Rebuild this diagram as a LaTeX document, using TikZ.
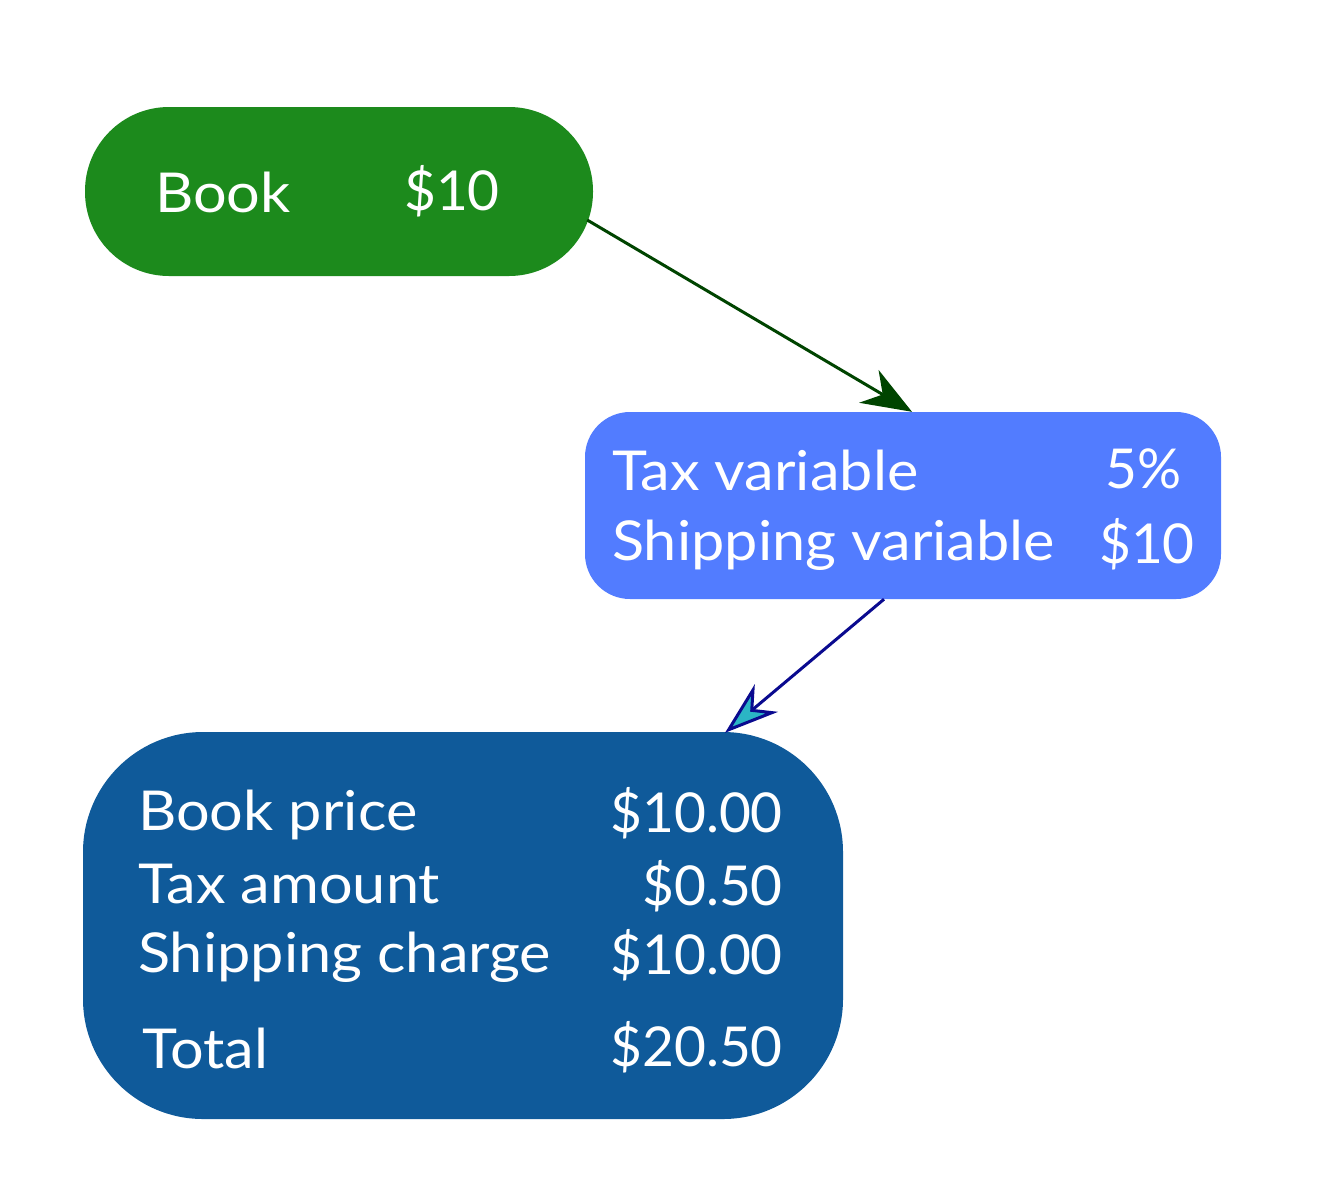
\documentclass[tikz,border=0pt]{standalone}
\usepackage{fontspec}
\setmainfont{Lato}
\newfontfamily\widefont[FakeStretch=1.08]{Lato}
\usetikzlibrary{arrows.meta}
\definecolor{bookgreen}{HTML}{1C8A1C}
\definecolor{arrgreen}{HTML}{004400}
\definecolor{varblue}{HTML}{527CFF}
\definecolor{totblue}{HTML}{0F5A9A}
\definecolor{arrnavy}{HTML}{0A0A8F}
\definecolor{arrcyan}{HTML}{2BB5C5}
\tikzset{
  box/.style={draw=none, rectangle, inner sep=0pt},
  lbl/.style={text=white, inner sep=0pt, font=\widefont\fontsize{55}{66}\selectfont},
  val/.style={text=white, inner sep=0pt, font=\fontsize{55}{66}\selectfont},
}
\begin{document}
\begin{tikzpicture}[x=1pt,y=1pt]
\useasboundingbox (0,0) rectangle (1321,-1200);
\node[box, fill=bookgreen, minimum width=508pt, minimum height=169pt, rounded corners=84pt] (b1) at (339,-191.5) {};
\node[box, fill=varblue, minimum width=636pt, minimum height=187pt, rounded corners=45pt] (b2) at (903,-505.5) {};
\node[box, fill=totblue, minimum width=760pt, minimum height=387pt, rounded corners=120pt] (b3) at (463,-925.5) {};
% box 1 texts
\node[lbl, anchor=base west] (t1) at (155,-212) {Book};
\node[val, anchor=base east] (v1) at (500,-210) {\$10};
% box 2 texts
\node[lbl, anchor=base west] (t2) at (612,-490) {Tax variable};
\node[val, anchor=base east] (v2) at (1182,-488) {5\%};
\node[lbl, anchor=base west] (t3) at (612,-560) {Shipping variable};
\node[val, anchor=base east] (v3) at (1195,-563) {\$10};
% box 3 texts
\node[lbl, anchor=base west] (t4) at (138,-830) {Book price};
\node[val, anchor=base east] (v4) at (783,-832) {\$10.00};
\node[lbl, anchor=base west] (t5) at (138,-903) {Tax amount};
\node[val, anchor=base east] (v5) at (783,-905) {\$0.50};
\node[lbl, anchor=base west] (t6) at (138,-972) {Shipping charge};
\node[val, anchor=base east] (v6) at (783,-974) {\$10.00};
\node[lbl, anchor=base west] (t7) at (142,-1068) {Total};
\node[val, anchor=base east] (v7) at (783,-1066) {\$20.50};
% connectors
\draw[arrgreen, line width=3pt, -{Stealth[length=50pt, width=38pt, inset=16pt, fill=arrgreen]}]
  ([shift={(-6,-28.5)}]b1.east) -- ([xshift=9pt]b2.north);
\draw[arrnavy, line width=3pt, -{Stealth[length=54pt, width=36pt, inset=17pt, fill=arrcyan]}]
  ([xshift=-19pt]b2.south) -- ([shift={(262,-1)}]b3.north);
\end{tikzpicture}
\end{document}
